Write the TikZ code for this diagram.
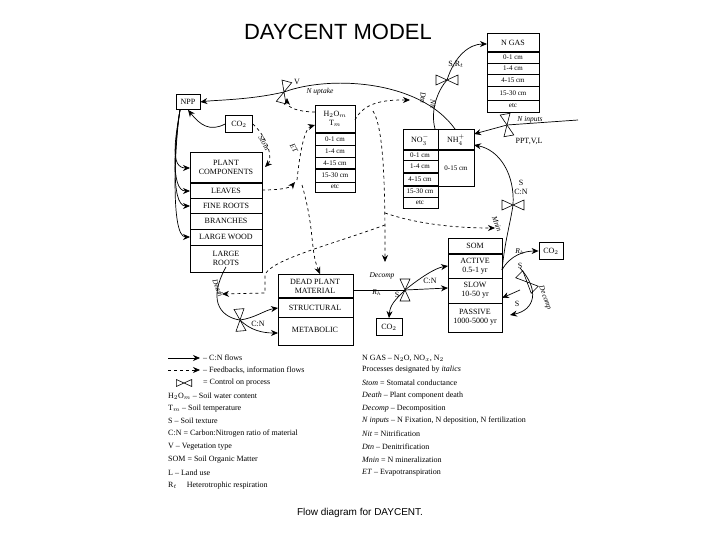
\documentclass[tikz,border=0pt]{standalone}
\usepackage{fontspec}
\setmainfont{Liberation Serif}
\newfontfamily\hsans{Liberation Sans}
\usetikzlibrary{arrows.meta}
\begin{document}
\begin{tikzpicture}[x=1pt,y=-1pt,
  box/.style={draw,line width=0.8pt,inner sep=0pt,font=\fontsize{8}{9}\selectfont,align=center},
  lbl/.style={font=\fontsize{8}{9}\selectfont,inner sep=1pt},
  it/.style={font=\fontsize{7.5}{9}\selectfont\itshape,inner sep=1pt},
  flow/.style={line width=0.7pt,-{Stealth[length=7pt,width=6pt]}},
  fb/.style={line width=0.7pt,dashed,-{Stealth[length=7pt,width=6pt]}},
  leg/.style={font=\fontsize{8}{9.5}\selectfont,anchor=west,inner sep=0pt},
  valve/.pic={\draw[line width=0.6pt] (0,0)--(-5,-11)--(5,-11)--cycle (0,0)--(-5,11)--(5,11)--cycle;}]
\useasboundingbox (0,0) rectangle (720,540);
\node[font=\hsans\fontsize{22}{24}\selectfont] (title) at (338,32) {DAYCENT MODEL};
% boxes
\node[box,minimum width=24pt,minimum height=15pt] (npp) at (188,102) {NPP};
\node[box,minimum width=27pt,minimum height=17pt] (co2a) at (239,124) {CO$_2$};
\draw[line width=0.8pt] (190,152) rectangle (262,272);
\draw[line width=1.6pt] (190,183)--(262,183);
\foreach \y in {198,213,229,245} \draw[line width=0.8pt] (190,\y)--(262,\y);
\node[lbl,align=center] (pc) at (226,167) {PLANT\\COMPONENTS};
\node[lbl] (leaves) at (226,190.5) {LEAVES};
\node[lbl] (fine) at (226,205.5) {FINE ROOTS};
\node[lbl] (branch) at (226,221) {BRANCHES};
\node[lbl] (wood) at (226,237) {LARGE WOOD};
\node[lbl,align=center] (lroots) at (226,258.5) {LARGE\\ROOTS};
% H2O
\draw[line width=0.8pt] (315,105) rectangle (355,192);
\draw[line width=1.6pt] (315,133)--(355,133) (315,169)--(355,169);
\foreach \y in {145,157,182} \draw[line width=0.8pt] (315,\y)--(355,\y);
\node[lbl,align=center] (h2o) at (335,119) {H$_2$O$_m$\\T$_m$};
\node[lbl,font=\fontsize{7}{8}\selectfont] at (335,139) {0-1 cm};
\node[lbl,font=\fontsize{7}{8}\selectfont] at (335,151) {1-4 cm};
\node[lbl,font=\fontsize{7}{8}\selectfont] at (335,163) {4-15 cm};
\node[lbl,font=\fontsize{7}{8}\selectfont] at (335,175.5) {15-30 cm};
\node[lbl,font=\fontsize{7}{8}\selectfont] at (335,187) {etc};
% NO3 NH4
\draw[line width=0.8pt] (403,129) rectangle (474,186);
\draw[line width=0.8pt] (403,186) rectangle (438,208);
\draw[line width=1.6pt] (403,150)--(474,150) (403,173)--(438,173);
\draw[line width=0.8pt] (438,129)--(438,186) (403,160)--(438,160) (403,185)--(438,185) (403,197)--(438,197);
\node[lbl] (no3) at (420,140) {NO$_3^-$};
\node[lbl] (nh4) at (456,140) {NH$_4^+$};
\node[lbl,font=\fontsize{7}{8}\selectfont] at (420,155) {0-1 cm};
\node[lbl,font=\fontsize{7}{8}\selectfont] at (420,166.5) {1-4 cm};
\node[lbl,font=\fontsize{7}{8}\selectfont] at (420,179) {4-15 cm};
\node[lbl,font=\fontsize{7}{8}\selectfont] at (420,191) {15-30 cm};
\node[lbl,font=\fontsize{7}{8}\selectfont] at (420,202.5) {etc};
\node[lbl,font=\fontsize{7}{8}\selectfont] at (456,168) {0-15 cm};
% N GAS
\draw[line width=0.8pt] (487,33) rectangle (539,112);
\draw[line width=1.6pt] (487,52)--(539,52);
\foreach \y in {63,74,86,100} \draw[line width=0.8pt] (487,\y)--(539,\y);
\node[lbl] (ngas) at (513,43) {N GAS};
\node[lbl,font=\fontsize{7}{8}\selectfont] at (513,57.5) {0-1 cm};
\node[lbl,font=\fontsize{7}{8}\selectfont] at (513,68.5) {1-4 cm};
\node[lbl,font=\fontsize{7}{8}\selectfont] at (513,80) {4-15 cm};
\node[lbl,font=\fontsize{7}{8}\selectfont] at (513,93) {15-30 cm};
\node[lbl,font=\fontsize{7}{8}\selectfont] at (513,106) {etc};
% SOM
\draw[line width=0.8pt] (448,238) rectangle (502,332);
\draw[line width=1.6pt] (448,254)--(502,254);
\draw[line width=0.8pt] (448,278)--(502,278) (448,303)--(502,303);
\node[lbl] (som) at (475,246) {SOM};
\node[lbl,align=center] (active) at (475,266) {ACTIVE\\0.5-1 yr};
\node[lbl,align=center] (slow) at (475,290.5) {SLOW\\10-50 yr};
\node[lbl,align=center] (passive) at (475,317.5) {PASSIVE\\1000-5000 yr};
\node[box,minimum width=24pt,minimum height=17pt] (co2b) at (551,251) {CO$_2$};
\node[box,minimum width=26pt,minimum height=17pt] (co2c) at (389,327) {CO$_2$};
% dead plant
\draw[line width=0.8pt] (278,274) rectangle (353,345);
\draw[line width=1.6pt] (278,298)--(353,298);
\draw[line width=0.8pt] (278,317)--(353,317);
\node[lbl,align=center] (dead) at (315,286) {DEAD PLANT\\MATERIAL};
\node[lbl] (struct) at (315,308) {STRUCTURAL};
\node[lbl] (metab) at (315,330) {METABOLIC};
% valves
\coordinate (vV) at (284,92); \pic[rotate=-15] at (vV) {valve};
\node[lbl] at (297,82) {V};
\coordinate (vS) at (447,80); \pic[rotate=90] at (vS) {valve};
\node[lbl] at (456,64) {S,R$_t$};
\coordinate (vN) at (507,125); \pic[rotate=10] at (vN) {valve};
\coordinate (vM) at (513,205); \pic[rotate=90] at (vM) {valve};
\node[lbl,align=center] at (521,187) {S\\C:N};
\coordinate (vD) at (405,290); \pic at (vD) {valve};
\coordinate (vR) at (527,282); \pic[rotate=45] at (vR) {valve};
\coordinate (vE) at (240,320); \pic[rotate=5] at (vE) {valve};
% solid flows
\draw[flow] (455,129) .. controls (420,80) and (330,75) .. (vV) .. controls (250,100) and (215,100) .. (npp.east);
\node[it] at (320,92) {N uptake};
\draw[flow] (435,129) .. controls (430,110) and (438,90) .. (vS) .. controls (455,55) and (470,44) .. (487,44);
\node[it,rotate=-90] at (423,98) {Dtn};
\node[it,rotate=-90] at (433,104) {Nit};
\draw[flow] (578,120) -- (vN) -- (474,134);
\node[it] at (530,120) {N inputs};
\node[lbl] at (529,141) {PPT,V,L};
\draw[flow] (co2a.west) .. controls (210,132) and (200,125) .. (npp.south);
\foreach \y in {168,191,206,237} \draw[flow] (180,110) .. controls (175,140) and (170,\y) .. (190,\y);
\draw[flow] (lroots.south) .. controls (205,305) and (225,318) .. (vE) .. controls (255,318) and (265,310) .. (278,308);
\draw[flow] (vE) .. controls (250,330) and (262,333) .. (278,333);
\node[it,rotate=-70] at (218,288) {Death};
\node[lbl] at (258,324) {C:N};
\draw[line width=0.7pt] (353,290) -- (vD);
\draw[flow] (vD) .. controls (420,278) and (435,268) .. (448,266);
\draw[flow] (vD) -- (448,288);
\node[lbl] at (430,281) {C:N};
\node[it] at (382,276) {Decomp};
\node[lbl] at (397,295) {S};
\draw[flow] (vD) .. controls (395,300) and (390,305) .. (co2c.north);
\node[it] at (377,293) {R$_h$};
\draw[flow] (502,270) .. controls (505,240) and (510,225) .. (vM) .. controls (515,175) and (500,150) .. (474,145);
\node[it,rotate=-70] at (497,224) {Mnin};
\draw[flow] (502,270) .. controls (510,255) and (525,251) .. (co2b.west);
\node[it] at (520,252) {R$_h$};
\draw[flow] (520,268) .. controls (540,290) and (535,310) .. (510,315);
\draw[flow] (520,290) -- (502,298);
\node[lbl] at (520,266) {S};
\node[lbl] at (517,304) {S};
\node[it,rotate=-70] at (545,298) {Decomp};
% feedbacks
\draw[fb] (315,112) .. controls (300,112) and (287,108) .. (287,98);
\draw[fb] (co2a.east) .. controls (270,140) and (272,160) .. (265,167);
\node[it,rotate=-60] at (264,143) {Stom};
\draw[fb] (262,190) .. controls (280,190) and (290,188) .. (295,182);
\draw[fb] (297,180) .. controls (300,150) and (305,128) .. (315,125);
\node[it,rotate=-60] at (294,148) {ET};
\draw[fb] (355,120) .. controls (365,100) and (390,100) .. (410,100);
\draw[fb] (373,111) .. controls (385,130) and (385,200) .. (385,262);
\draw[fb] (385,213) .. controls (420,225) and (460,228) .. (495,228);
\draw[fb] (302,185) .. controls (315,230) and (310,250) .. (320,274);
\draw[fb] (385,225) .. controls (330,245) and (270,260) .. (265,275) -- (265,293) -- (222,294);
% legend
\draw[flow] (168,358) -- (200,358); \node[leg] at (203,358) {-- C:N flows};
\draw[fb] (168,370) -- (200,370); \node[leg] at (203,370) {-- Feedbacks, information flows};
\pic[rotate=90,scale=0.7] at (184,383) {valve}; \node[leg] at (203,383) {= Control on process};
\node[leg] at (168,396) {H$_2$O$_{m}$ -- Soil water content};
\node[leg] at (168,409) {T$_{m}$ -- Soil temperature};
\node[leg] at (168,421) {S -- Soil texture};
\node[leg] at (168,434) {C:N = Carbon:Nitrogen ratio of material};
\node[leg] at (168,447) {V -- Vegetation type};
\node[leg] at (168,460) {SOM = Soil Organic Matter};
\node[leg] at (168,473) {L -- Land use};
\node[leg] at (168,486) {R$_t$ \quad Heterotrophic respiration};
\node[leg] at (362,358) {N GAS -- N$_2$O, NO$_x$, N$_2$};
\node[leg] at (362,370) {Processes designated by \textit{italics}};
\node[leg] at (362,383) {\textit{Stom} = Stomatal conductance};
\node[leg] at (362,396) {\textit{Death} -- Plant component death};
\node[leg] at (362,409) {\textit{Decomp} -- Decomposition};
\node[leg] at (362,421) {\textit{N inputs} -- N Fixation, N deposition, N fertilization};
\node[leg] at (362,434) {\textit{Nit} = Nitrification};
\node[leg] at (362,447) {\textit{Dtn} -- Denitrification};
\node[leg] at (362,460) {\textit{Mnin} = N mineralization};
\node[leg] at (362,473) {\textit{ET} -- Evapotranspiration};
\node[font=\hsans\fontsize{10}{12}\selectfont] (cap) at (360,513) {Flow diagram for DAYCENT.};
\end{tikzpicture}
\end{document}
